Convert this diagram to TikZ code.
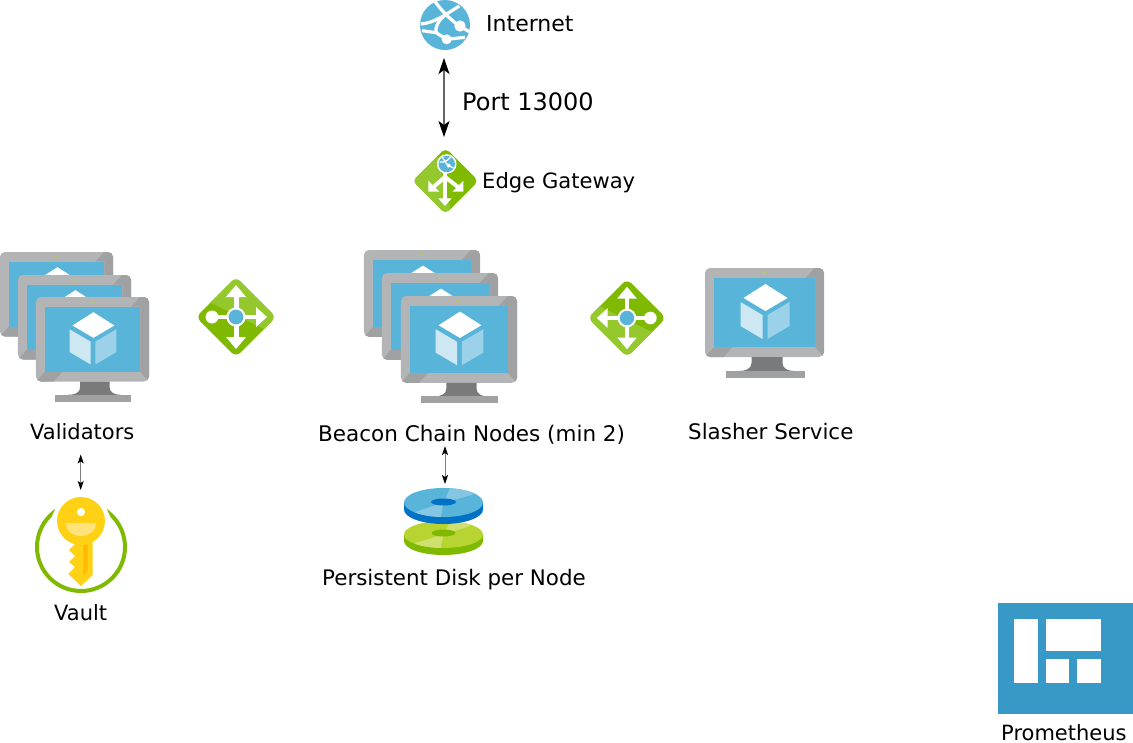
\documentclass[tikz,border=0pt]{standalone}
\usepackage{fontspec}
\setmainfont{DejaVu Sans}
\usetikzlibrary{arrows.meta}
\definecolor{azblue}{HTML}{59B4D9}
\definecolor{azdark}{HTML}{0072C6}
\definecolor{azgreen}{HTML}{7FBA00}
\definecolor{azlight}{HTML}{94C82C}
\definecolor{azlime}{HTML}{B8D432}
\definecolor{azlimelt}{HTML}{CFE06E}
\definecolor{azbluelt}{HTML}{85C7E3}
\definecolor{scrA}{HTML}{B3B4B5}
\definecolor{scrB}{HTML}{A0A1A2}
\definecolor{standc}{HTML}{7A7A7A}
\definecolor{cubeL}{HTML}{CDE7F3}
\definecolor{cubeR}{HTML}{9CD2E9}
\definecolor{keyc}{HTML}{FFD115}
\definecolor{keylt}{HTML}{FFE27A}
\definecolor{keyd}{HTML}{FFB900}
\definecolor{promc}{HTML}{3999C6}
\tikzset{
  lbl/.style={inner sep=0pt,anchor=base west,font=\fontsize{#1}{24}\selectfont},
  iconbox/.style 2 args={inner sep=0pt,outer sep=0pt,minimum width=#1,minimum height=#2},
  dbl/.style={{Stealth[length=16pt,width=11pt,inset=4pt,color=black]}-{Stealth[length=16pt,width=11pt,inset=4pt,color=black]},line width=1.2pt,draw=black!60},
  dblsm/.style={{Stealth[length=9pt,width=6pt,inset=2pt,color=black]}-{Stealth[length=9pt,width=6pt,inset=2pt,color=black]},line width=0.8pt,draw=black!50},
  monitor/.pic={
    \fill[scrA,rounded corners=5pt] (-59.5,0) rectangle (59.5,89);
    \begin{scope}
      \clip[rounded corners=5pt] (-59.5,0) rectangle (59.5,89);
      \fill[scrB] (41,10) -- (50,0) -- (59.5,0) -- (59.5,89) -- (50.5,79) -- (50.5,10) -- cycle;
      \fill[scrB] (-50.5,79) -- (-59.5,89) -- (-41,89) -- (-32,79) -- cycle;
    \end{scope}
    \fill[azblue] (-50.5,10) rectangle (50.5,79);
    \fill[azlime] (-0.5,5) circle (1.3);
    \fill[standc] (-13,89) -- (18,89) -- (18,95) .. controls (18,101) and (24,103) .. (30,103) -- (-26,103) .. controls (-19,103) and (-13,101) .. (-13,95) -- cycle;
    \fill[scrB] (-39,103) rectangle (40,110);
    \fill[white] (1,16) -- (23,30) -- (1,43) -- (-21,30) -- cycle;
    \fill[cubeL] (-24,34) -- (-2,47) -- (-2,71) -- (-24,58) -- cycle;
    \fill[cubeR] (3,47) -- (25,34) -- (25,58) -- (3,71) -- cycle;
  },
  gateway/.pic={
    \fill[azgreen,rounded corners=6pt] (0,-40) -- (40,0) -- (0,40) -- (-40,0) -- cycle;
    \begin{scope}
      \clip[rounded corners=6pt] (0,-40) -- (40,0) -- (0,40) -- (-40,0) -- cycle;
      \fill[azlight] (-45,-24) -- (45,20.5) -- (45,-45) -- (-45,-45) -- cycle;
    \end{scope}
    \fill[white] (-2.5,-21) rectangle (2.5,21);
    \fill[white] (-24,-2) rectangle (21,2);
    \fill[white] (0,-32) -- (10,-20) -- (-10,-20) -- cycle;
    \fill[white] (0,32) -- (10,20) -- (-10,20) -- cycle;
    \fill[white] (31,0) -- (20,10) -- (20,-10) -- cycle;
    \fill[white] (-24,0) circle (6.5);
    \fill[white] (0,0) circle (9.6);
    \fill[azblue] (0,0) circle (7.4);
  }
}
\begin{document}
\begin{tikzpicture}[x=1pt,y=-1pt]
\useasboundingbox (0,0) rectangle (1133,742);
\fill[white] (0,0) rectangle (1133,742);

% Internet globe
\node[iconbox={50pt}{50pt}] (internet) at (444,25) {};
\fill[azblue] (445,25) circle (25);
\begin{scope}[shift={(400,0)},x=0.3333pt,y=-0.3333pt,line width=3.2pt,white]
  \draw (62,72) .. controls (100,70) and (135,45) .. (178,18);
  \draw (105,5) .. controls (125,30) and (140,50) .. (178,78) -- (208,95);
  \draw (132,48) .. controls (112,65) and (105,85) .. (108,98) -- (140,118);
  \draw (66,92) -- (108,98);
  \draw (140,118) -- (195,112);
  \fill (180,78) circle (17);
  \fill (140,118) circle (15);
\end{scope}

% Edge gateway
\node[iconbox={62pt}{62pt}] (edge) at (444,181) {};
\begin{scope}[shift={(445.5,181)}]
  \fill[azgreen,rounded corners=5pt] (0,-33) -- (33,0) -- (0,33) -- (-33,0) -- cycle;
  \begin{scope}
    \clip[rounded corners=5pt] (0,-33) -- (33,0) -- (0,33) -- (-33,0) -- cycle;
    \fill[azlight] (-12,-40) -- (8,40) -- (-40,40) -- (-40,-40) -- cycle;
  \end{scope}
  \fill[white] (-2.3,-8) rectangle (1.7,20);
  \fill[white] (-0.5,25) -- (6.2,17.3) -- (-7.2,17.3) -- cycle;
  \draw[white,line width=4pt] (-0.5,-4) -- (-12,6);
  \draw[white,line width=4pt] (-0.5,-4) -- (12.5,6);
  \fill[white] (-17.2,10.7) -- (-17.2,-0.3) -- (-6.2,10.7) -- cycle;
  \fill[white] (17.8,10.7) -- (17.8,-0.3) -- (6.8,10.7) -- cycle;
  \fill[white] (1.2,-17) circle (9.8);
  \fill[azblue] (1.2,-17) circle (8.2);
  \draw[white,line width=1.2pt] (-6,-19) .. controls (-1,-18) and (3,-21) .. (5,-24);
  \draw[white,line width=1.2pt] (-3,-24) .. controls (-1,-19) and (2,-15) .. (8,-13);
  \fill[white] (3,-15.5) circle (2);
\end{scope}

% Validators
\pic at (56.5,252) [scale=0.95] {monitor};
\pic at (74.5,275) [scale=0.95] {monitor};
\pic at (92.5,297) [scale=0.95] {monitor};
% Gateways
\pic at (236,317) {gateway};
\pic at (627,318) [rotate=180,scale=0.975] {gateway};
% Beacon nodes
\pic at (422,250) [scale=0.975] {monitor};
\pic at (440,273) [scale=0.975] {monitor};
\pic at (459,296) [scale=0.975] {monitor};
% Slasher
\pic at (764.5,268) {monitor};

% Vault
\node[iconbox={92pt}{96pt}] (vault) at (80.7,545) {};
\begin{scope}[shift={(81,547)},y=1pt]
  \fill[azgreen] (124:46) arc[start angle=124,end angle=416,radius=46] -- (45:42) arc[start angle=405,end angle=135,radius=42] -- cycle;
\end{scope}
\fill[keyc] (81,521) circle (24);
\fill[keyc] (75,540) -- (75,544) -- (69,550) -- (75,556) -- (69,562) -- (75,567) -- (68.3,574) -- (81,586) -- (92.7,575) -- (92.7,540) -- cycle;
\fill[keyd] (83.3,545) -- (87.7,545) -- (87.7,570) -- (83.3,576) -- cycle;
\fill[keylt] (66,523) -- (96,523) .. controls (96,532) and (88,536) .. (81,536) .. controls (74,536) and (66,532) .. (66,523) -- cycle;
\fill[white] (81,512) circle (4);

% Disks
\node[iconbox={80pt}{68pt}] (disk) at (445,521) {};
\fill[azgreen] (404,534.5) -- (404,541) arc[start angle=180,end angle=360,x radius=39.5pt,y radius=14pt] -- (483,534.5) -- cycle;
\fill[azlime] (443.5,534.5) ellipse (39.5pt and 13.5pt);
\begin{scope}
  \clip (443.5,534.5) ellipse (39.5pt and 13.5pt);
  \fill[azlimelt] (443.5,534.5) -- (415,543) -- (412,552) -- (440,552) -- cycle;
  \fill[azlimelt] (443.5,534.5) -- (452,518) -- (475,518) -- (470,526) -- cycle;
\end{scope}
\fill[azgreen] (443.5,533) ellipse (12pt and 3.5pt);
\fill[azdark] (404,502.5) -- (404,509.5) arc[start angle=180,end angle=360,x radius=39.5pt,y radius=14.5pt] -- (483,502.5) -- cycle;
\fill[azblue] (443.5,502.5) ellipse (39.5pt and 14.5pt);
\begin{scope}
  \clip (443.5,502.5) ellipse (39.5pt and 14.5pt);
  \fill[azbluelt] (443.5,502.5) -- (415,512) -- (412,522) -- (440,522) -- cycle;
  \fill[azbluelt] (443.5,502.5) -- (452,484) -- (480,484) -- (472,495) -- cycle;
\end{scope}
\fill[azdark] (443.5,502) ellipse (12.5pt and 3.5pt);

% Prometheus
\node[iconbox={135pt}{111pt},fill=promc] (prom) at (1065.5,658.5) {};
\fill[white] (1014,619) rectangle (1038,683);
\fill[white] (1046,619) rectangle (1101,651);
\fill[white] (1046,659) rectangle (1069,683);
\fill[white] (1077,659) rectangle (1101,683);

% Labels
\node[lbl=22] (tinternet) at (486,31) {Internet};
\node[lbl=24] (tport) at (462,110) {Port 13000};
\node[lbl=21.1] (tedge) at (482,188.5) {Edge Gateway};
\node[lbl=21] (tvalid) at (30,439) {Validators};
\node[lbl=21.5] (tbeacon) at (318,441) {Beacon Chain Nodes (min 2)};
\node[lbl=21.4] (tslash) at (688,439) {Slasher Service};
\node[lbl=21] (tvault) at (54,620.5) {Vault};
\node[lbl=21.4] (tdisk) at (322,585) {Persistent Disk per Node};
\node[lbl=21] (tprom) at (1001,740.5) {Prometheus};

% Connectors
\draw[dbl,shorten <=8pt,shorten >=13pt] (internet.south) -- (edge.north);
\draw[dblsm,shorten <=15pt,shorten >=7pt] (vault.north |- tvalid.south) -- (vault.north);
\draw[dblsm,shorten <=2pt,shorten >=3pt] (disk.north |- tbeacon.south) -- (disk.north);
\end{tikzpicture}
\end{document}
